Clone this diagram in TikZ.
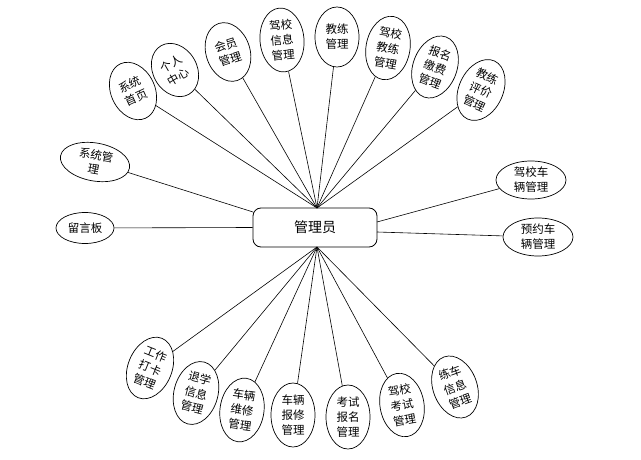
\documentclass[tikz,border=0pt]{standalone}
\usepackage{fontspec}
\newfontfamily\cjk{Noto Sans CJK SC}
\usetikzlibrary{shapes.geometric}
\begin{document}
\begin{tikzpicture}[x=1pt,y=-1pt,
 el/.style={draw,ellipse,line width=0.7pt,inner sep=0pt,minimum width=44pt,minimum height=60pt,align=center,font=\cjk\fontsize{11.5}{15}\selectfont},
 hel/.style={draw,ellipse,line width=0.7pt,inner sep=0pt,minimum width=70pt,minimum height=38pt,align=center,font=\cjk\fontsize{11.5}{15}\selectfont},
 ln/.style={line width=0.6pt}]
\useasboundingbox (0,0) rectangle (641,460);
\node[draw,rounded corners=8pt,line width=0.8pt,minimum width=124pt,minimum height=39pt,font=\cjk\fontsize{14}{16}\selectfont] (c) at (315,227.5) {管理员};
\coordinate (ht) at (317,208);
\coordinate (hb) at (317,247);
% top
\node[el,rotate=25] (t1) at (133,91) {系统\\首页};
\node[el,rotate=30,minimum height=56pt] (t2) at (175,70) {个人\\中心};
\node[el,rotate=18] (t3) at (228,52) {会员\\管理};
\node[el,rotate=5,minimum height=64pt] (t4) at (282,40) {驾校\\信息\\管理};
\node[el] (t5) at (337,37) {教练\\管理};
\node[el,rotate=-10,minimum height=64pt] (t6) at (388,48) {驾校\\教练\\管理};
\node[el,rotate=-20,minimum height=64pt] (t7) at (435,67) {报名\\缴费\\管理};
\node[el,rotate=-25,minimum height=64pt] (t8) at (481,90) {教练\\评价\\管理};
\foreach \n in {t1,t2,t3,t4,t5,t6,t7,t8} \draw[ln] (\n) -- (ht);
% sides
\node[hel,rotate=-10] (s1) at (95,162) {系统管\\理};
\node[hel,minimum width=58pt,minimum height=31pt] (s2) at (85,228) {留言板};
\node[hel] (s3) at (531,180) {驾校车\\辆管理};
\node[hel] (s4) at (538,237) {预约车\\辆管理};
\draw[ln] (s1) -- (253,212);
\draw[ln] (s2) -- (c.west);
\draw[ln] (s3) -- (377,222);
\draw[ln] (s4) -- (377,232);
% bottom
\node[el,rotate=-22,minimum height=64pt] (b1) at (150,368) {工作\\打卡\\管理};
\node[el,rotate=-15,minimum height=64pt] (b2) at (196,393) {退学\\信息\\管理};
\node[el,rotate=-8,minimum height=64pt] (b3) at (242,410) {车辆\\维修\\管理};
\node[el,minimum height=64pt] (b4) at (293,415) {车辆\\报修\\管理};
\node[el,minimum height=64pt] (b5) at (348,417) {考试\\报名\\管理};
\node[el,rotate=10,minimum height=64pt] (b6) at (402,405) {驾校\\考试\\管理};
\node[el,rotate=20,minimum height=64pt] (b7) at (455,387) {练车\\信息\\管理};
\foreach \n in {b1,b2,b3,b4,b5,b6,b7} \draw[ln] (\n) -- (hb);
\end{tikzpicture}
\end{document}
